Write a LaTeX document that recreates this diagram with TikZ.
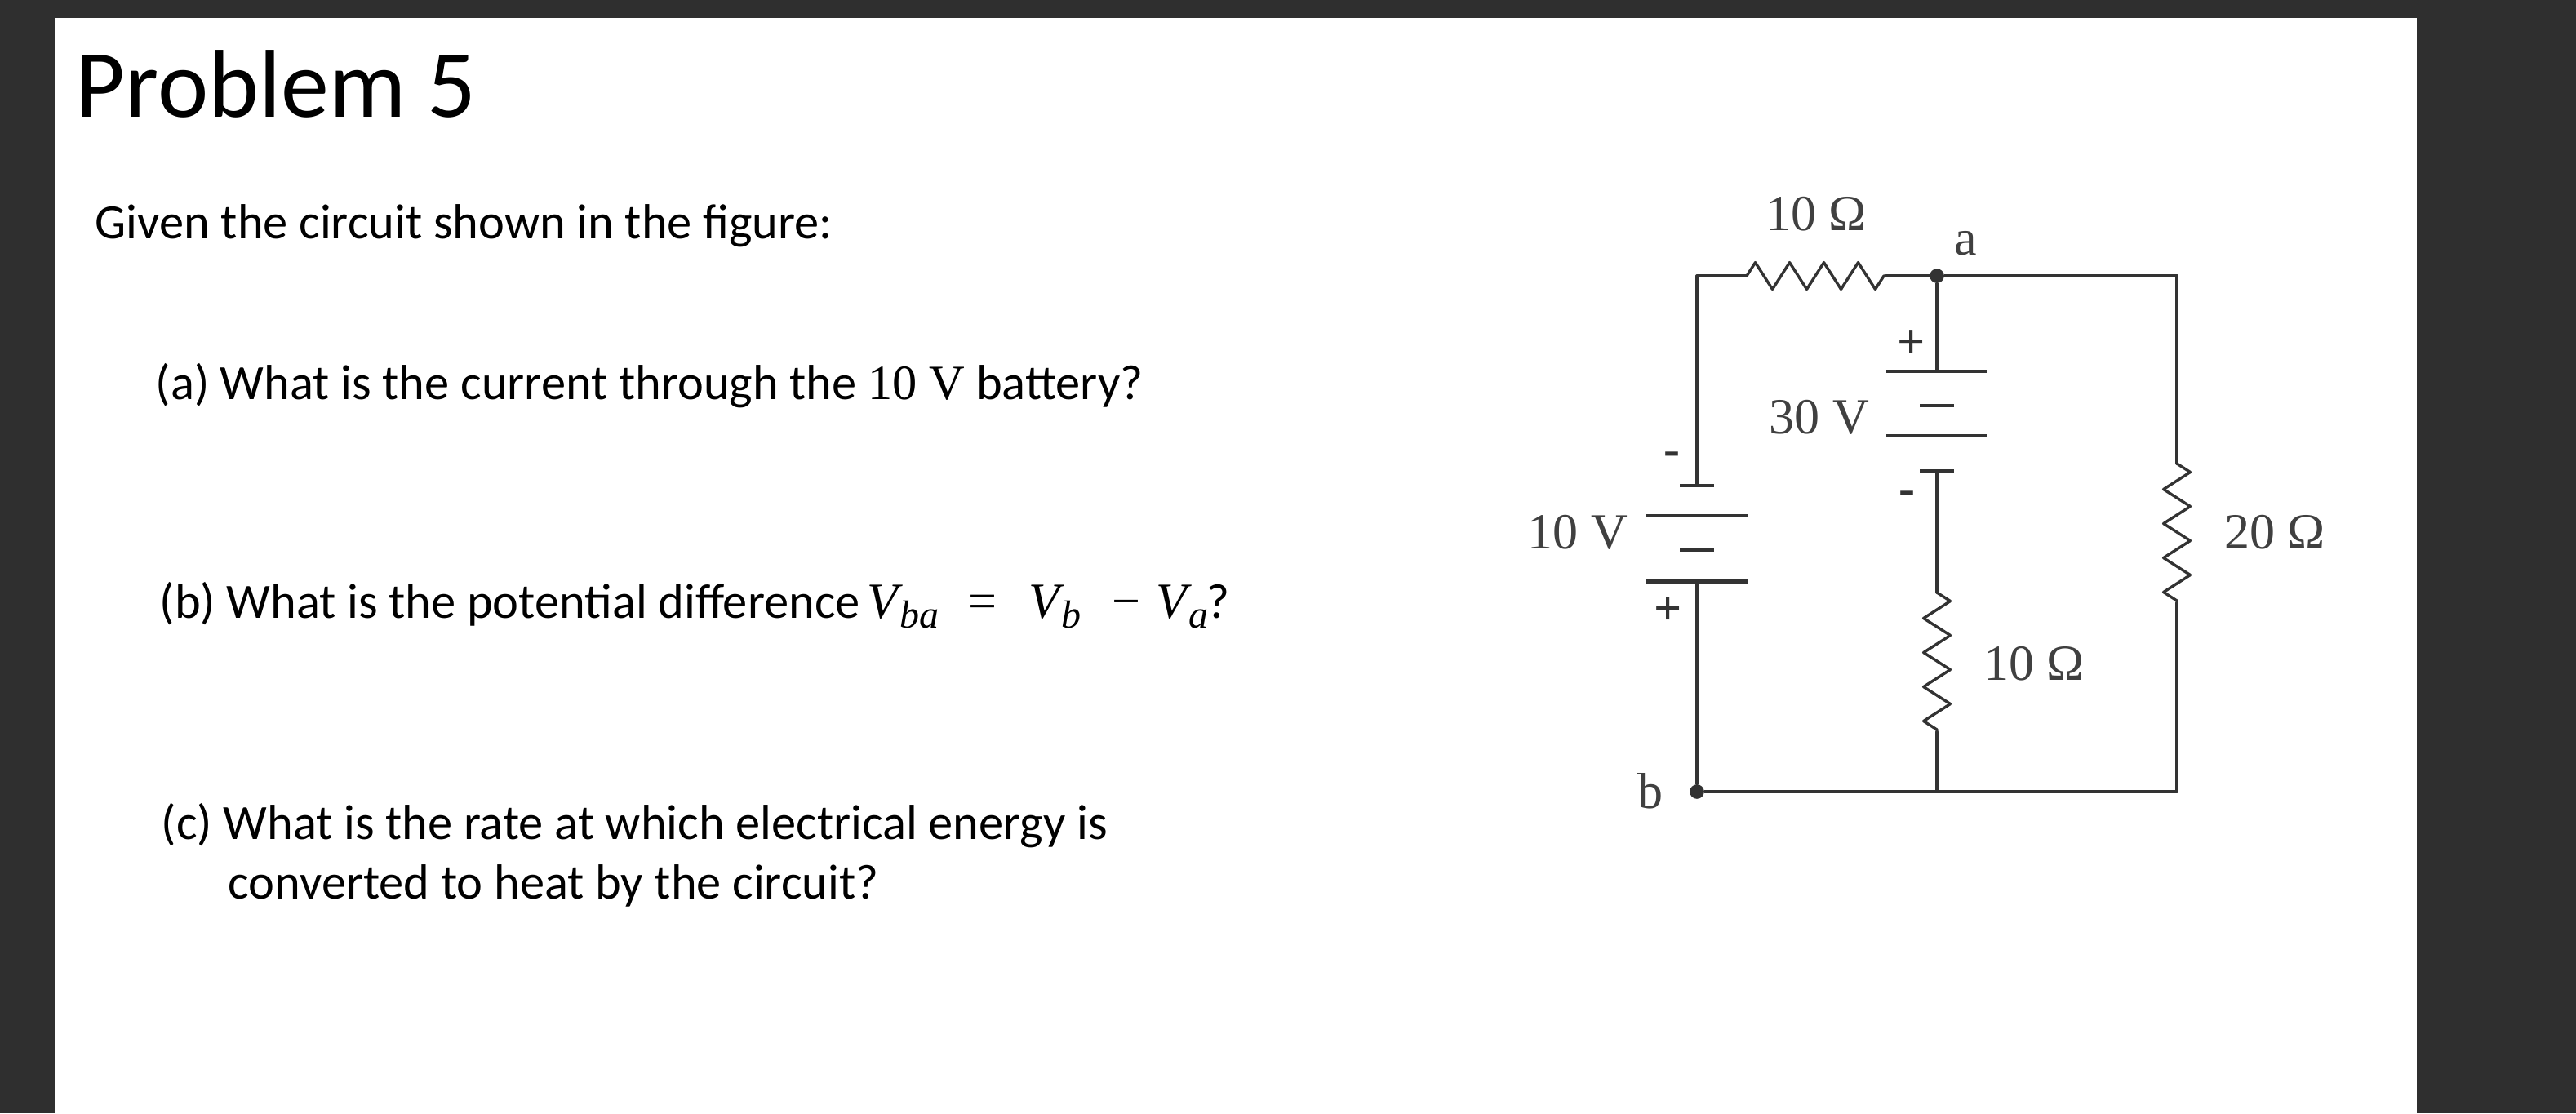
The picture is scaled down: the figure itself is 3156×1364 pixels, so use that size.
\documentclass[tikz,border=0pt]{standalone}
\usepackage{fontspec}
\usetikzlibrary{decorations.pathmorphing}
\setmainfont{Carlito}
\newfontfamily\cserif{Liberation Serif}
\newcommand{\subtxt}[1]{\kern-1pt\raisebox{-3pt}{\fontsize{12}{13}\selectfont\textit{#1}}}
\definecolor{slidebg}{HTML}{2F2F2F}
\definecolor{wirecol}{HTML}{333333}
\definecolor{lblcol}{HTML}{404040}
\tikzset{
  x=0.25pt,y=-0.25pt,
  wire/.style={draw=wirecol,line width=0.85pt,line cap=round,line join=round},
  plate/.style={draw=wirecol,line width=1.1pt},
  res/.style={wire,decorate,decoration={zigzag,segment length=10.5pt,amplitude=4.1pt,pre length=0pt,post length=0pt}},
  txt/.style={anchor=base west,inner sep=0pt,text=black,font=\fontsize{15.1}{18}\selectfont},
  eqn/.style={anchor=base west,inner sep=0pt,text=black,font=\cserif\fontsize{15.5}{20}\selectfont},
  lbl/.style={inner sep=0pt,text=lblcol,font=\cserif\fontsize{15.5}{18}\selectfont},
  sym/.style={inner sep=0pt,text=wirecol,font=\cserif\bfseries\fontsize{15}{16}\selectfont},
  dot/.style={circle,fill=wirecol,draw=none,minimum size=4.4pt,inner sep=0pt}
}
\begin{document}
\begin{tikzpicture}
\useasboundingbox (0,0) rectangle (3156,1364);
\fill[slidebg] (0,0) rectangle (3156,1364);
\fill[white] (67,22) rectangle (2961,1364);
% text
\node[txt,font=\fontsize{29.5}{32}\selectfont] (title) at (92,143) {Problem 5};
\node[txt] (given) at (116,292) {Given the circuit shown in the figure:};
\node[txt] (qa) at (190,489) {(a) What is the current through the {\cserif 10 V} battery?};
\node[txt] (qb) at (195,757) {(b) What is the potential difference};
\node[eqn] (vba) at (1062,757) {\textit{V}\subtxt{ba}};
\node[eqn] (eq) at (1186,757) {=};
\node[eqn] (vb) at (1260,757) {\textit{V}\subtxt{b}};
\node[eqn] (mn) at (1362,757) {\char"2212};
\node[eqn] (va) at (1416,757) {\textit{V}\subtxt{a}};
\node[txt] (qm) at (1478,757) {?};
\node[txt] (qc1) at (197,1028) {(c) What is the rate at which electrical energy is};
\node[txt] (qc2) at (279,1101) {converted to heat by the circuit?};
% circuit junctions and corners
\node[dot] (a) at (2373,338) {};
\node[dot] (b) at (2079,970) {};
\coordinate (tl) at (2079,338);
\coordinate (tr) at (2667,338);
\coordinate (br) at (2667,970);
\coordinate (bm) at (2373,970);
% top resistor
\coordinate (r1a) at (2140,338);
\coordinate (r1b) at (2311,338);
\draw[wire] (tl) -- (r1a);
\draw[res] (r1a) -- (r1b);
\draw[wire] (r1b) -- (a);
\draw[wire] (a) -- (tr);
% right branch
\coordinate (r3a) at (2667,568);
\coordinate (r3b) at (2667,739);
\draw[wire] (tr) -- (r3a);
\draw[res] (r3a) -- (r3b);
\draw[wire] (r3b) -- (br);
\draw[wire] (br) -- (b);
% left battery
\coordinate (l1) at (2079,595);
\coordinate (l2) at (2079,712);
\draw[wire] (tl) -- (l1);
\draw[plate] (2058,595) -- (2100,595);
\draw[plate] (2016,632) -- (2141,632);
\draw[plate] (2058,674) -- (2100,674);
\draw[plate,line width=1.3pt] (2016,712) -- (2141,712);
\draw[wire] (l2) -- (b);
% center battery
\coordinate (c1) at (2373,455);
\coordinate (c2) at (2373,577);
\draw[wire] (a) -- (c1);
\draw[plate] (2311,455) -- (2434,455);
\draw[plate] (2352,497) -- (2394,497);
\draw[plate] (2311,534) -- (2434,534);
\draw[plate] (2352,577) -- (2394,577);
% center resistor
\coordinate (r2a) at (2373,726);
\coordinate (r2b) at (2373,897);
\draw[wire] (c2) -- (r2a);
\draw[res] (r2a) -- (r2b);
\draw[wire] (r2b) -- (bm);
% labels
\node[lbl] (l10t) at (2225,262) {10 \char"03A9};
\node[lbl] (la) at (2408,298) {a};
\node[sym] (pc) at (2342,422) {+};
\node[lbl] (l30) at (2229,511) {30 V};
\node[sym] (mc) at (2336,610) {-};
\node[sym] (ml) at (2048,562) {-};
\node[lbl] (l10v) at (1933,652) {10 V};
\node[sym] (pl) at (2044,749) {+};
\node[lbl] (l10m) at (2492,813) {10 \char"03A9};
\node[lbl] (l20) at (2787,652) {20 \char"03A9};
\node[lbl] (lb) at (2022,969) {b};
\end{tikzpicture}
\end{document}
